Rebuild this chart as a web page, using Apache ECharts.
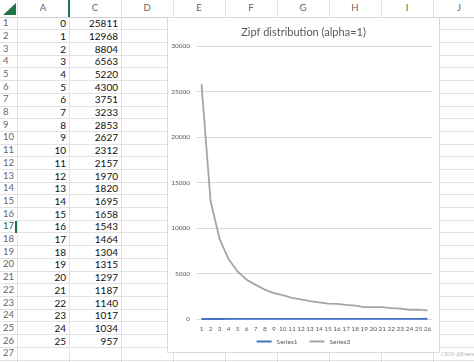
<!DOCTYPE html>
<html><head><meta charset="utf-8">
<script src="https://cdn.jsdelivr.net/npm/echarts@6/dist/echarts.min.js"></script>
<style>
body{margin:0;width:474px;height:362px;overflow:hidden;background:#fff;position:relative;font-family:Lato,'Open Sans',sans-serif}
.hl{position:absolute;left:0;width:474px;height:1px;background:#e2e2e2}
.vl{position:absolute;top:0;width:1px;height:362px;background:#e2e2e2}
.t{position:absolute;font-size:10px;line-height:12px;white-space:nowrap}
#chartBox{position:absolute;left:167px;top:17px;width:273px;height:336px;box-sizing:border-box;border:1px solid #d9d9d9;background:#fff}
#chart{position:absolute;left:-1px;top:-1px;width:273px;height:336px}
#wm{position:absolute;left:441px;top:351px;font-size:5px;color:#b8b8b8;white-space:nowrap}
</style></head>
<body>
<div id="sheet"></div>
<div id="chartBox"><div id="chart"></div></div>
<div id="wm">CSDN @Emerau</div>
<script>
// ---- data ----
const colHeaders = ['A','C','D','E','F','G','H','I','J'];
const rowNumbers = ['1','2','3','4','5','6','7','8','9','10','11','12','13','14','15','16','17','18','19','20','21','22','23','24','25','26','27'];
const series1 = [0,1,2,3,4,5,6,7,8,9,10,11,12,13,14,15,16,17,18,19,20,21,22,23,24,25];
const series3 = [25811,12968,8804,6563,5220,4300,3751,3233,2853,2627,2312,2157,1970,1820,1695,1658,1543,1464,1304,1315,1297,1187,1140,1017,1034,957];
const categories = ['1','2','3','4','5','6','7','8','9','10','11','12','13','14','15','16','17','18','19','20','21','22','23','24','25','26'];
const yTicks = [0,5000,10000,15000,20000,25000,30000];

// ---- spreadsheet background ----
const sheet = document.getElementById('sheet');
const headH = 16.6, rowH = 12.7, rhW = 17, colW = 52;
function add(cls, style, text){const d=document.createElement('div');d.className=cls;d.style.cssText=style;if(text!==undefined)d.textContent=text;sheet.appendChild(d);return d;}
for(let k=0;k<=28;k++){ add('hl','top:'+Math.round(headH+k*rowH)+'px;'+(k===0?'background:#cfcfcf;':'')); }
for(let c=0;c<=9;c++){ add('vl','left:'+(rhW+c*colW)+'px;'); }
colHeaders.forEach((h,i)=>{ add('t','left:'+(rhW+i*colW)+'px;top:2px;width:'+colW+'px;text-align:center;color:#666;font-size:9.5px;',h); });
rowNumbers.forEach((r,i)=>{ add('t','left:3px;top:'+(headH+i*rowH+0.5)+'px;color:'+(i===16?'#217346':'#666')+';font-size:9.5px;',r); });
series1.forEach((v,i)=>{ add('t','left:'+rhW+'px;top:'+(headH+i*rowH+0.5)+'px;width:'+(colW-3)+'px;text-align:right;color:#111;',String(v)); });
series3.forEach((v,i)=>{ add('t','left:'+(rhW+colW)+'px;top:'+(headH+i*rowH+0.5)+'px;width:'+(colW-3)+'px;text-align:right;color:#111;',String(v)); });
add('', 'position:absolute;left:68px;top:0;width:2px;height:17px;background:#217346;');
add('', 'position:absolute;left:15px;top:'+Math.round(headH+16*rowH+1)+'px;width:2px;height:'+Math.round(rowH-1)+'px;background:#217346;');
add('', 'position:absolute;left:3px;top:3px;width:0;height:0;border-left:13px solid transparent;border-bottom:12px solid #217346;');

// ---- chart ----
const chart = echarts.init(document.getElementById('chart'), null, {renderer:'canvas'});
chart.setOption({
  animation:false,
  title:{text:'Zipf distribution (alpha=1)',left:'center',top:5,textStyle:{fontSize:11,fontWeight:'normal',color:'#595959',fontFamily:'Lato'}},
  legend:{bottom:3,left:'center',itemWidth:15,itemHeight:2,itemGap:12,icon:'rect',
    textStyle:{fontSize:6.5,color:'#595959',fontFamily:'Lato'},data:['Series1','Series3']},
  grid:{left:30,right:8,top:29,bottom:34},
  xAxis:{type:'category',data:categories,boundaryGap:true,
    axisLine:{lineStyle:{color:'#d9d9d9'}},axisTick:{show:false},
    axisLabel:{fontSize:6.5,color:'#595959',margin:6,interval:0,fontFamily:'Lato'}},
  yAxis:{type:'value',min:yTicks[0],max:yTicks[yTicks.length-1],interval:yTicks[1]-yTicks[0],
    axisLine:{show:false},axisTick:{show:false},
    splitLine:{lineStyle:{color:'#d9d9d9',width:1}},
    axisLabel:{fontSize:6.5,color:'#595959',margin:7,fontFamily:'Lato',formatter:v=>String(v)}},
  series:[
    {name:'Series1',type:'line',data:series1,symbol:'none',lineStyle:{color:'#4472C4',width:1.8},itemStyle:{color:'#4472C4'}},
    {name:'Series3',type:'line',data:series3,symbol:'none',lineStyle:{color:'#A5A5A5',width:1.8},itemStyle:{color:'#A5A5A5'}}
  ]
});
</script>
</body></html>
